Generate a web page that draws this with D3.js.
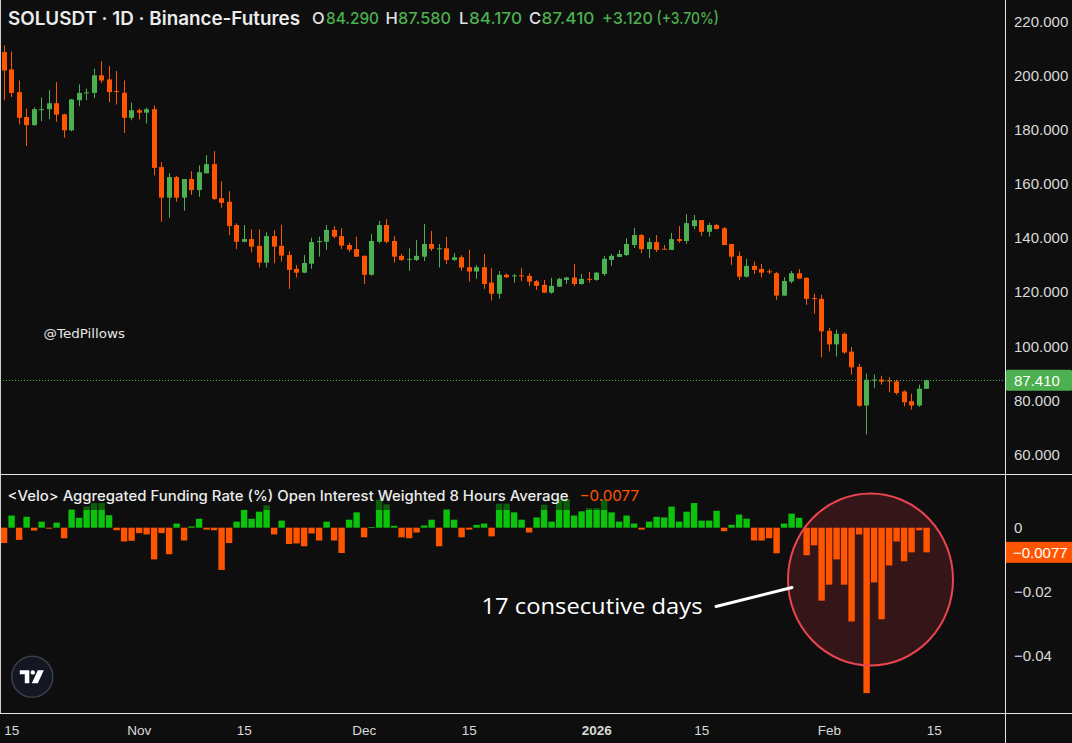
<!DOCTYPE html>
<html><head><meta charset="utf-8">
<script src="https://cdn.jsdelivr.net/npm/d3@7"></script>
<style>
html,body{margin:0;padding:0;background:#0e0e0e;overflow:hidden;}
svg{display:block;}
</style></head><body>
<svg id="chart" width="1072" height="743"></svg>
<script>
// ---------- DATA ----------
const startDate = "2025-10-14";
const opens = [208.7,202.3,193.9,184.7,181.7,187.3,187.6,189.8,185.7,179.8,
190.9,193.6,193.6,200.1,198.6,194.3,193.7,184.4,187.2,186.3,
187.6,166.2,154.9,162.5,154.9,161.8,157.7,163.9,167.3,154.7,
153.4,144.8,138.6,139.6,137.1,130.9,140.7,137.1,133.7,128.6,
127.2,130.5,138.5,138.6,143.0,140.7,137.4,135.9,133.4,126.4,
138.6,144.8,138.9,133.4,132.0,131.9,133.1,137.8,136.0,136.2,
131.9,132.9,129.2,127.6,129.2,123.5,119.4,126.4,126.0,126.2,
126.0,124.0,122.7,119.8,122.0,124.5,125.4,123.0,124.9,124.5,
126.7,131.9,133.0,133.7,137.4,141.1,135.9,138.5,136.0,135.6,
139.6,138.9,144.4,146.6,142.3,144.8,143.6,137.8,133.4,125.7,
129.7,128.6,127.7,127.0,118.7,123.9,127.0,125.3,117.8,117.5,
105.7,100.7,104.6,98.0,92.4,78.1,87.5,87.7,87.4,87.0,
83.3,79.7,78.1,84.29];
const highs = [211.2,208.9,198.2,187.8,188.2,191.9,194.6,197.6,185.9,191.4,
196.8,195.2,202.6,205.3,203.5,201.7,198.2,190.0,187.8,188.2,
189.0,168.1,164.0,162.9,161.8,164.7,166.8,170.6,172.1,161.0,
157.3,145.4,144.8,143.2,143.2,142.1,142.9,144.8,135.2,130.0,
133.7,140.1,140.5,144.8,144.4,143.6,138.3,140.5,133.6,141.5,
146.3,147.0,140.7,134.1,136.2,139.3,145.2,142.6,137.8,140.4,
134.4,133.6,135.6,130.0,134.1,128.9,127.8,126.9,126.7,128.9,
127.0,124.5,124.5,125.3,125.3,125.7,130.4,126.7,127.5,127.5,
133.4,134.1,135.6,139.9,143.7,141.5,140.0,141.1,137.4,141.9,
144.4,148.8,148.5,146.6,145.6,145.2,144.0,137.8,135.0,132.3,
131.3,130.4,128.5,127.4,125.5,127.8,128.5,125.5,119.4,119.0,
106.8,106.1,105.1,99.7,93.5,89.9,89.6,89.1,88.6,87.6,
83.7,82.5,85.8,87.58];
const lows = [190.9,192.1,182.0,174.0,181.5,183.2,183.9,182.9,177.1,179.4,
188.7,190.9,191.7,197.3,190.2,189.3,178.8,183.5,183.8,182.3,
163.2,146.0,147.5,153.4,150.1,155.9,155.2,163.9,154.0,151.2,
141.1,135.9,138.4,134.7,129.1,129.1,130.7,131.3,121.2,125.4,
127.0,128.6,133.1,135.6,139.9,135.9,134.9,133.1,123.0,126.0,
138.0,138.0,130.9,131.5,127.9,131.5,131.5,135.2,129.1,130.4,
131.5,127.9,123.9,124.9,121.2,116.9,117.5,125.3,123.5,124.1,
122.3,120.8,119.8,119.4,122.0,123.0,122.3,122.7,123.5,124.2,
126.0,129.7,133.0,133.4,136.3,134.4,132.6,134.8,135.9,135.6,
138.2,137.8,143.3,140.8,140.5,143.3,137.4,130.0,124.5,125.4,
126.7,125.4,126.7,117.1,118.7,123.3,125.0,115.3,112.0,95.9,
98.1,96.2,97.2,89.5,77.6,67.4,84.6,85.8,83.0,82.1,
77.8,76.6,77.6,84.17];
const closes = [201.9,193.6,184.4,181.7,187.6,187.6,189.8,185.6,179.8,191.2,
193.6,193.8,200.1,198.2,193.9,194.1,184.4,187.2,186.3,187.6,
165.9,154.9,162.5,154.9,161.8,157.7,164.3,167.3,154.4,153.0,
144.4,138.6,139.6,136.8,130.9,140.7,136.8,133.5,128.2,127.2,
130.8,138.5,138.9,143.0,140.5,137.2,135.7,133.1,126.4,138.9,
144.8,138.6,133.1,131.9,132.3,133.4,137.8,136.0,136.2,131.9,
132.9,129.1,127.6,129.2,123.0,119.4,126.4,125.5,126.2,126.0,
123.9,122.3,119.8,122.3,124.9,125.4,123.0,124.9,124.8,127.2,
132.3,133.4,134.1,137.8,141.1,135.9,138.5,135.6,135.9,139.6,
138.9,145.5,146.6,142.3,144.8,143.3,137.4,133.1,125.7,129.7,
128.2,127.2,127.4,118.7,124.1,127.0,125.0,117.5,117.7,105.5,
100.7,104.6,97.7,92.2,78.0,87.6,87.7,86.9,87.0,82.7,
79.3,78.1,84.3,87.41];
const funding = [-0.0048,0.0038,-0.0038,0.0034,-0.0009,0.0019,-0.0003,0.0016,-0.0033,0.0058,
0.0031,0.0066,0.0077,0.0077,0.0039,-0.0008,-0.0043,-0.0041,-0.0017,-0.0021,
-0.0099,-0.0017,-0.0083,0.0013,-0.0040,0.0004,0.0028,-0.0006,-0.0008,-0.0132,
-0.0048,0.0019,0.0056,0.0028,0.0050,0.0070,-0.0021,0.0022,-0.0051,-0.0049,
-0.0058,-0.0018,-0.0040,0.0019,-0.0040,-0.0079,0.0025,0.0048,-0.0030,0.0002,
0.0088,0.0073,0.0006,-0.0030,-0.0033,-0.0015,0.0007,0.0025,-0.0058,0.0059,
0.0025,-0.0030,-0.0006,0.0009,0.0013,-0.0027,0.0075,0.0075,0.0048,0.0025,
-0.0015,0.0032,0.0072,0.0019,0.0090,0.0090,0.0038,0.0051,0.0061,0.0061,
0.0088,0.0048,0.0019,0.0038,0.0013,-0.0006,0.0019,0.0034,0.0032,0.0066,
0.0019,0.0050,0.0077,0.0022,0.0022,0.0053,-0.0011,0.0009,0.0041,0.0028,
-0.0040,-0.0040,-0.0033,-0.0080,0.0013,0.0044,0.0031,-0.0086,-0.0055,-0.0228,
-0.0178,-0.0099,-0.0178,-0.0293,-0.0021,-0.0517,-0.0171,-0.0286,-0.0118,-0.0043,
-0.0105,-0.0077,-0.0008,-0.0077];
const priceTicks = [60,80,100,120,140,160,180,200,220];
const fundingTicks = [0,-0.02,-0.04];
const timeTickDates = ["2025-10-15","2025-11-01","2025-11-15","2025-12-01","2025-12-15","2026-01-01","2026-01-15","2026-02-01","2026-02-15"];
const timeTickLabels = ["15","Nov","15","Dec","15","2026","15","Feb","15"];
const lastPrice = 87.41;
const lastFunding = -0.0077;
const titleText = "SOLUSDT · 1D · Binance-Futures";
const ohlcLegend = [["O","84.290"],["H","87.580"],["L","84.170"],["C","87.410"]];
const changeText = ["+3.120","(+3.70%)"];
const fundingTitle = "<Velo> Aggregated Funding Rate (%) Open Interest Weighted 8 Hours Average";
const annotationText = "17 consecutive days";
const watermark = "@TedPillows";

// ---------- SETUP ----------
const W = 1072, H = 743;
const plotRight = 1005;
const GREEN = "#4caf50", ORANGE = "#ff5500", FGREEN = "#0cc20c", BG = "#0e0e0e";
const parse = d3.utcParse("%Y-%m-%d");
const start = parse(startDate);
const dates = opens.map((_, i) => d3.utcDay.offset(start, i));
const candles = dates.map((d, i) => ({d, o: opens[i], h: highs[i], l: lows[i], c: closes[i]}));
const fund = dates.map((d, i) => ({d, v: funding[i]}));

const x = d3.scaleUtc().domain([dates[0], dates[dates.length - 1]]).range([3.8, 926.3]);
const yP = d3.scaleLinear().domain([60, 220]).range([454.5, 21.5]);
const yF = d3.scaleLinear().domain([-0.04, 0]).range([655.7, 527.7]);

const svg = d3.select("#chart");
svg.append("rect").attr("width", W).attr("height", H).attr("fill", BG);

// annotation ellipse (fill beneath bars)
const ell = {cx: 870.5, cy: 579.5, rx: 82.5, ry: 86};
svg.append("ellipse").attr("cx", ell.cx).attr("cy", ell.cy).attr("rx", ell.rx).attr("ry", ell.ry)
  .attr("fill", "rgba(232,62,72,0.18)");

// ---------- CANDLES ----------
const bodyW = 5;
const cg = svg.append("g");
cg.selectAll("line.wick").data(candles).join("line")
  .attr("x1", d => Math.round(x(d.d)) + 0.5).attr("x2", d => Math.round(x(d.d)) + 0.5)
  .attr("y1", d => yP(d.h)).attr("y2", d => yP(d.l))
  .attr("stroke", d => d.c >= d.o ? GREEN : ORANGE).attr("stroke-width", 1);
cg.selectAll("rect.body").data(candles).join("rect")
  .attr("x", d => Math.round(x(d.d)) + 0.5 - bodyW / 2)
  .attr("width", bodyW)
  .attr("y", d => yP(Math.max(d.o, d.c)))
  .attr("height", d => Math.max(1, Math.abs(yP(d.o) - yP(d.c))))
  .attr("fill", d => d.c >= d.o ? GREEN : ORANGE);

// last price dotted line
svg.append("line").attr("x1", 0).attr("x2", plotRight).attr("y1", Math.round(yP(lastPrice)) + 0.5).attr("y2", Math.round(yP(lastPrice)) + 0.5)
  .attr("stroke", GREEN).attr("stroke-width", 1).attr("stroke-dasharray", "1 2");

// ---------- FUNDING BARS ----------
const barW = 6.4;
svg.append("g").selectAll("rect").data(fund).join("rect")
  .attr("x", d => x(d.d) - barW / 2 + 0.3)
  .attr("width", barW)
  .attr("y", d => d.v >= 0 ? yF(d.v) : yF(0))
  .attr("height", d => Math.max(0.8, Math.abs(yF(d.v) - yF(0))))
  .attr("fill", d => d.v >= 0 ? FGREEN : ORANGE);

// legend background overlay (darkens bars under legend)
svg.append("rect").attr("x", 2).attr("y", 483).attr("width", 643).attr("height", 27)
  .attr("fill", "rgba(14,14,14,0.55)");

// annotation stroke + arrow + text
svg.append("ellipse").attr("cx", ell.cx).attr("cy", ell.cy).attr("rx", ell.rx).attr("ry", ell.ry)
  .attr("fill", "none").attr("stroke", "#ea4450").attr("stroke-width", 2);
svg.append("line").attr("x1", 716).attr("y1", 606.5).attr("x2", 792).attr("y2", 587.5)
  .attr("stroke", "#ffffff").attr("stroke-width", 3).attr("stroke-linecap", "round");
svg.append("text").attr("x", 481.5).attr("y", 613.5).text(annotationText)
  .attr("fill", "#ffffff").attr("font-family", "'Open Sans', 'Noto Sans', sans-serif").attr("font-size", 21)
  .attr("textLength", 221).attr("lengthAdjust", "spacingAndGlyphs");

// ---------- SEPARATORS ----------
svg.append("line").attr("x1", 0.5).attr("x2", 0.5).attr("y1", 0).attr("y2", 713).attr("stroke", "#cfcfcf").attr("stroke-width", 1);
svg.append("line").attr("x1", plotRight + 0.5).attr("x2", plotRight + 0.5).attr("y1", 0).attr("y2", H).attr("stroke", "#e6e6e6").attr("stroke-width", 1);
svg.append("line").attr("x1", 0).attr("x2", W).attr("y1", 474.5).attr("y2", 474.5).attr("stroke", "#e6e6e6").attr("stroke-width", 1);
svg.append("line").attr("x1", 0).attr("x2", W).attr("y1", 713.5).attr("y2", 713.5).attr("stroke", "#e6e6e6").attr("stroke-width", 1);

// ---------- AXES ----------
const axisFont = "'Liberation Sans', Arial, sans-serif";
const pAxis = svg.append("g").attr("transform", `translate(${plotRight},0)`)
  .call(d3.axisRight(yP).tickValues(priceTicks).tickFormat(d3.format(".3f")).tickSize(0).tickPadding(9));
pAxis.select(".domain").remove();
pAxis.selectAll("text").attr("fill", "#dadada").attr("font-family", axisFont).attr("font-size", 15);

const fAxis = svg.append("g").attr("transform", `translate(${plotRight},0)`)
  .call(d3.axisRight(yF).tickValues(fundingTicks).tickFormat(d => d === 0 ? "0" : d3.format(".2f")(d)).tickSize(0).tickPadding(9));
fAxis.select(".domain").remove();
fAxis.selectAll("text").attr("fill", "#dadada").attr("font-family", axisFont).attr("font-size", 15);

const tAxis = svg.append("g").attr("transform", "translate(0,713)")
  .call(d3.axisBottom(x).tickValues(timeTickDates.map(parse)).tickFormat((d, i) => timeTickLabels[i]).tickSize(0));
tAxis.select(".domain").remove();
tAxis.selectAll("text").attr("fill", "#dadada").attr("font-family", axisFont).attr("font-size", 13.5)
  .attr("dy", 0).attr("y", 22)
  .attr("font-weight", (d, i) => timeTickLabels[i] === "2026" ? "bold" : "normal");

// current value boxes
const pY = yP(lastPrice);
svg.append("rect").attr("x", plotRight + 1).attr("y", pY - 10.5).attr("width", W - plotRight - 1).attr("height", 21).attr("rx", 1.5).attr("fill", GREEN);
svg.append("text").attr("x", 1014).attr("y", pY).attr("dy", "0.35em").text(d3.format(".3f")(lastPrice))
  .attr("fill", "#ffffff").attr("font-family", axisFont).attr("font-size", 15);
const fY = yF(lastFunding);
svg.append("rect").attr("x", plotRight + 1).attr("y", fY - 10.5).attr("width", W - plotRight - 1).attr("height", 21).attr("fill", ORANGE);
svg.append("text").attr("x", 1013).attr("y", fY).attr("dy", "0.35em").text(d3.format(".4f")(lastFunding))
  .attr("fill", "#ffffff").attr("font-family", axisFont).attr("font-size", 15);

// ---------- LEGENDS ----------
const legFont = "Inter, Lato, sans-serif";
svg.append("text").attr("x", 8).attr("y", 25).text(titleText)
  .attr("fill", "#ececec").attr("font-family", legFont).attr("font-weight", 600).attr("font-size", 18.5)
  .attr("textLength", 292).attr("lengthAdjust", "spacingAndGlyphs");
const labX = [312, 385.5, 459, 529], numX = [326, 398, 469, 541.5];
ohlcLegend.forEach((p, i) => {
  svg.append("text").attr("x", labX[i]).attr("y", 23.5).text(p[0]).attr("fill", "#e0e0e0")
    .attr("font-family", legFont).attr("font-weight", 500).attr("font-size", 16.5);
  svg.append("text").attr("x", numX[i]).attr("y", 23.5).text(p[1]).attr("fill", GREEN)
    .attr("font-family", legFont).attr("font-weight", 500).attr("font-size", 16.5)
    .attr("textLength", 53).attr("lengthAdjust", "spacingAndGlyphs");
});
svg.append("text").attr("x", 602).attr("y", 23.5).text(changeText[0]).attr("fill", GREEN)
  .attr("font-family", legFont).attr("font-weight", 500).attr("font-size", 16.5).attr("textLength", 51).attr("lengthAdjust", "spacingAndGlyphs");
svg.append("text").attr("x", 656.5).attr("y", 23.5).text(changeText[1]).attr("fill", GREEN)
  .attr("font-family", legFont).attr("font-weight", 500).attr("font-size", 16.5).attr("textLength", 62.5).attr("lengthAdjust", "spacingAndGlyphs");

svg.append("text").attr("x", 7.5).attr("y", 500.7).text(fundingTitle)
  .attr("fill", "#ececec").attr("font-family", legFont).attr("font-weight", 500).attr("font-size", 14)
  .attr("textLength", 561).attr("lengthAdjust", "spacingAndGlyphs");
svg.append("text").attr("x", 579.5).attr("y", 500.7).text(d3.format(".4f")(lastFunding))
  .attr("fill", ORANGE).attr("font-family", legFont).attr("font-size", 14.5)
  .attr("textLength", 59.5).attr("lengthAdjust", "spacingAndGlyphs");

// watermark
svg.append("text").attr("x", 43.5).attr("y", 337.5).text(watermark)
  .attr("fill", "#e6e6e6").attr("font-family", "'DejaVu Sans', Verdana, sans-serif").attr("font-size", 13)
  .attr("textLength", 81.5).attr("lengthAdjust", "spacingAndGlyphs");

// TradingView logo
const lg = svg.append("g").attr("transform", "translate(32.3,676.7)");
lg.append("circle").attr("r", 20.5).attr("fill", "#131722").attr("stroke", "#3b3f4c").attr("stroke-width", 1.5);
lg.append("path").attr("d", "M-12.5,-6.5 H-3 V6.5 H-7.5 V-2.5 H-12.5 Z").attr("fill", "#ffffff");
lg.append("circle").attr("cx", 0.5).attr("cy", -4.3).attr("r", 2.2).attr("fill", "#ffffff");
lg.append("path").attr("d", "M5.5,-6.5 H11.5 L5.5,6.5 H-0.5 Z").attr("fill", "#ffffff");
</script>
</body></html>
